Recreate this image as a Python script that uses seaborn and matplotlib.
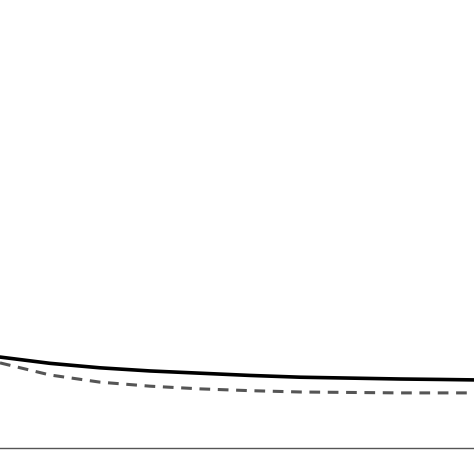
import matplotlib
matplotlib.use('Agg')
import matplotlib.pyplot as plt
import seaborn as sns
import pandas as pd

# values (x in tick units, y in % of axis height)
x_vals = [0.0, 0.76, 1.52, 2.28, 3.04, 3.8, 4.57, 5.33, 6.09, 6.7, 7.21]
solid_y = [20.3, 18.9, 17.9, 17.2, 16.7, 16.2, 15.8, 15.6, 15.4, 15.3, 15.2]
dashed_y = [19.0, 16.3, 14.7, 13.8, 13.2, 12.8, 12.5, 12.4, 12.3, 12.3, 12.3]

df = pd.DataFrame({'x': x_vals * 2,
                   'y': solid_y + dashed_y,
                   'series': ['solid'] * len(x_vals) + ['dashed'] * len(x_vals)})

sns.set_style('white')
fig = plt.figure(figsize=(4.74, 4.74), dpi=100)
ax = fig.add_axes([0, 26 / 474, 1, 448 / 474])

sns.lineplot(data=df[df.series == 'solid'], x='x', y='y', color='black',
             linewidth=2.6, ax=ax)
sns.lineplot(data=df[df.series == 'dashed'], x='x', y='y', color='#555555',
             linewidth=2.2, linestyle=(0, (3.5, 2.5)), ax=ax)

ax.set_xlim(0, 7.21)
ax.set_ylim(0, 100)
ax.set_xticks(range(1, 8))
ax.set_xticklabels([])
ax.set_yticks([])
ax.set_xlabel('')
ax.set_ylabel('')
for s in ['top', 'left', 'right']:
    ax.spines[s].set_visible(False)
ax.spines['bottom'].set_color('#555555')
ax.spines['bottom'].set_linewidth(1.0)
ax.tick_params(axis='x', direction='out', length=3, color='#555555', width=1)

fig.savefig('out.png', dpi=100)
